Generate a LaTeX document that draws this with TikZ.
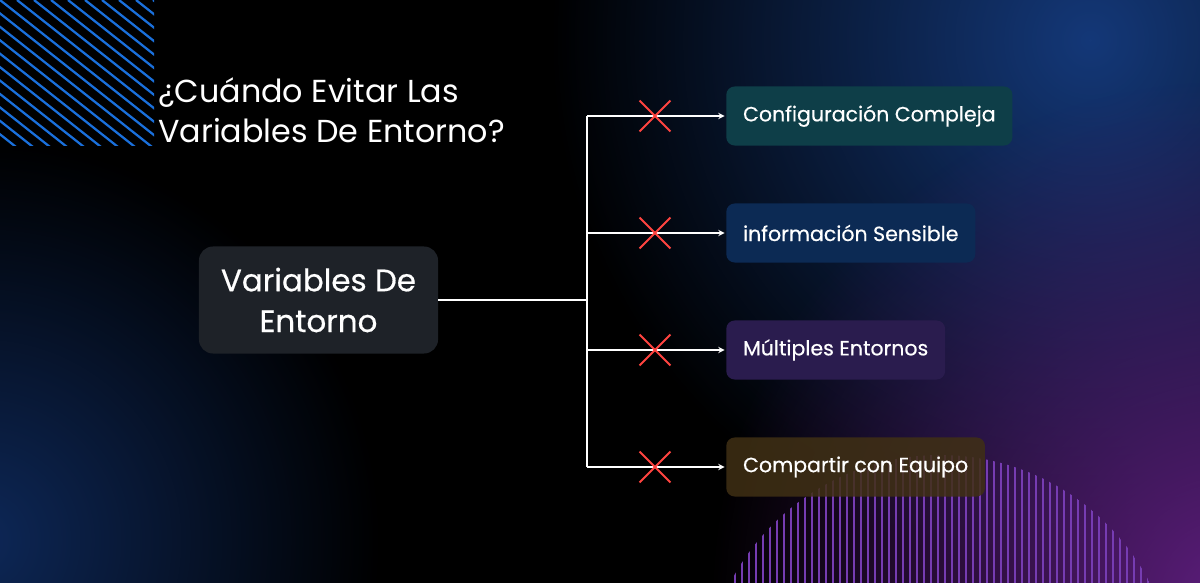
\documentclass[tikz,border=0pt]{standalone}
\usepackage{fontspec}
\setmainfont{Poppins}
\newfontfamily\medfont{Poppins}[FakeBold=0.5]
\usetikzlibrary{positioning,fadings,shapes.misc}
\tikzset{>=stealth}
\tikzfading[name=glow, inner color=transparent!0, outer color=transparent!100]
\definecolor{glowblue}{RGB}{20,56,120}
\definecolor{glowleft}{RGB}{14,40,88}
\definecolor{glowpurple}{RGB}{92,30,124}
\definecolor{stripeblue}{RGB}{26,112,220}
\definecolor{stripepurple}{RGB}{118,60,178}
\definecolor{mainfill}{RGB}{30,34,40}
\definecolor{teal}{RGB}{14,62,72}
\definecolor{navy}{RGB}{12,42,84}
\definecolor{grape}{RGB}{42,28,78}
\definecolor{umber}{RGB}{64,48,20}
\definecolor{xred}{RGB}{255,68,64}

\begin{document}
\begin{tikzpicture}[x=0.025cm,y=-0.025cm,
  mainbox/.style={fill=mainfill, rounded corners=10pt, text=white, align=center,
    minimum width=5.975cm, minimum height=2.675cm, font=\medfont\fontsize{22}{29}\selectfont},
  optbox/.style={rounded corners=6pt, text=white, anchor=west, inner xsep=0.42cm,
    minimum height=1.475cm, font=\medfont\fontsize{14.6}{16}\selectfont},
  xmark/.style={cross out, draw=xred, line width=1.4pt, inner sep=0pt, minimum size=0.72cm},
  link/.style={white, line width=1pt}]
\useasboundingbox (0,0) rectangle (1200,583);
% background
\begin{scope}
\clip (0,0) rectangle (1200,583);
\fill[black] (0,0) rectangle (1200,583);
\fill[glowblue, path fading=glow] (1090,40) circle (540);
\fill[glowleft, path fading=glow] (-20,540) circle (400);
\fill[glowpurple, path fading=glow] (1230,600) circle (520);
\end{scope}
% stripes
\begin{scope}
\clip (0,0) rectangle (154,146);
\foreach \i in {-272,-255,...,160}
  \draw[stripeblue, line width=1.6pt] (\i,0) -- ++(300,237);
\end{scope}
\begin{scope}
\clip (940,691) circle (236);
\foreach \x in {700,707,...,1190}
  \draw[stripepurple, line width=1.3pt] (\x,440) -- (\x,583);
\end{scope}
% title
\node[anchor=north west, text=white, align=left, inner sep=0pt,
  font=\fontsize{22.6}{29}\selectfont] (title) at (158,77)
  {¿Cuándo Evitar Las\\Variables De Entorno?};
% nodes
\node[mainbox] (main) at (318.5,300) {Variables De\\Entorno};
\node[optbox, fill=teal] (b1) at (726,116) {Configuración Compleja};
\node[optbox, fill=navy] (b2) at (726,233) {información Sensible};
\node[optbox, fill=grape] (b3) at (726,350) {Múltiples Entornos};
\node[optbox, fill=umber, fill opacity=0.85, text opacity=1] (b4) at (726,467) {Compartir con Equipo};
\coordinate (trunk) at (587,300);
% connectors
\draw[link] (main.east) -- (trunk);
\draw[link] (trunk |- b1.west) -- (trunk |- b4.west);
\foreach \b in {b1,b2,b3,b4}
  \draw[link, ->, shorten >=1pt] (trunk |- \b.west) -- (\b.west);
\node[xmark] (x1) at (655,116) {};
\node[xmark] (x2) at (655,233) {};
\node[xmark] (x3) at (655,350) {};
\node[xmark] (x4) at (655,467) {};
\end{tikzpicture}
\end{document}
